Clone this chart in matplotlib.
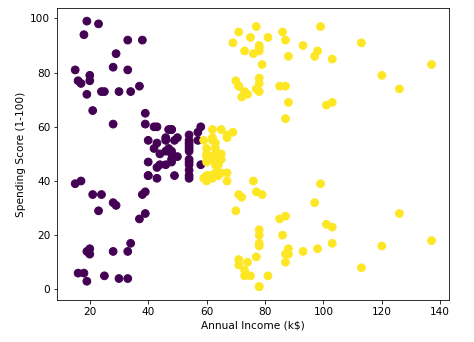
import matplotlib
matplotlib.use("Agg")
import matplotlib.pyplot as plt
import numpy as np

income = [15, 15, 16, 16, 17, 17, 18, 18, 19, 19, 19, 19, 20, 20, 20, 20, 21, 21, 23, 23,
          24, 24, 25, 25, 28, 28, 28, 28, 29, 29, 30, 30, 33, 33, 33, 33, 34, 34, 37, 37,
          38, 38, 39, 39, 39, 39, 40, 40, 40, 40, 42, 42, 43, 43, 43, 43, 44, 44, 46, 46,
          46, 46, 47, 47, 48, 48, 48, 48, 48, 48, 49, 49, 50, 50, 54, 54, 54, 54, 54, 54,
          54, 54, 54, 54, 54, 54, 57, 57, 58, 58, 59, 59, 60, 60, 60, 60, 60, 60, 61, 61,
          62, 62, 62, 62, 62, 62, 63, 63, 63, 63, 63, 63, 64, 64, 65, 65, 65, 65, 67, 67,
          67, 67, 69, 69, 70, 70, 71, 71, 71, 71, 71, 71, 72, 72, 73, 73, 73, 73, 74, 74,
          75, 75, 76, 76, 77, 77, 77, 77, 78, 78, 78, 78, 78, 78, 78, 78, 78, 78, 78, 78,
          79, 79, 81, 81, 85, 85, 86, 86, 87, 87, 87, 87, 87, 87, 88, 88, 88, 88, 93, 93,
          97, 97, 98, 98, 99, 99, 101, 101, 103, 103, 103, 103, 113, 113, 120, 120, 126, 126, 137, 137]

spending = [39, 81, 6, 77, 40, 76, 6, 94, 3, 72, 14, 99, 15, 77, 13, 79, 35, 66, 29, 98,
            35, 73, 5, 73, 14, 82, 32, 61, 31, 87, 4, 73, 4, 92, 14, 81, 17, 73, 26, 75,
            35, 92, 36, 61, 28, 65, 55, 47, 42, 42, 52, 60, 54, 60, 45, 41, 50, 46, 51, 46,
            56, 55, 52, 59, 51, 59, 50, 48, 59, 47, 55, 42, 49, 56, 47, 54, 53, 48, 52, 42,
            51, 55, 41, 44, 57, 46, 58, 55, 60, 46, 55, 41, 49, 40, 42, 52, 47, 50, 42, 49,
            41, 48, 59, 55, 56, 42, 50, 46, 43, 48, 52, 54, 42, 46, 48, 50, 43, 59, 43, 57,
            56, 40, 58, 91, 29, 77, 35, 95, 11, 75, 9, 75, 34, 71, 5, 88, 7, 73, 10, 72,
            5, 93, 40, 87, 12, 97, 36, 74, 22, 90, 17, 88, 20, 76, 16, 89, 1, 78, 1, 73,
            35, 83, 5, 93, 26, 75, 20, 95, 27, 63, 13, 75, 10, 92, 13, 86, 15, 69, 14, 90,
            32, 86, 15, 88, 39, 97, 24, 68, 17, 85, 23, 69, 8, 91, 16, 79, 28, 74, 18, 83]

# cluster label (0 = low income group, 1 = high income group)
cluster = [0 if inc <= 58 else 1 for inc in income]

fig = plt.figure(figsize=(474 / 72, 342 / 72), dpi=72)
ax = fig.add_axes([0.121, 0.123, 0.827, 0.854])
ax.scatter(income, spending, c=cluster, cmap="viridis", s=60)
ax.set_xlabel("Annual Income (k$)", fontsize=10.5)
ax.set_ylabel("Spending Score (1-100)", fontsize=10.5)
ax.tick_params(labelsize=10.5)
fig.savefig("out.png", dpi=72)
